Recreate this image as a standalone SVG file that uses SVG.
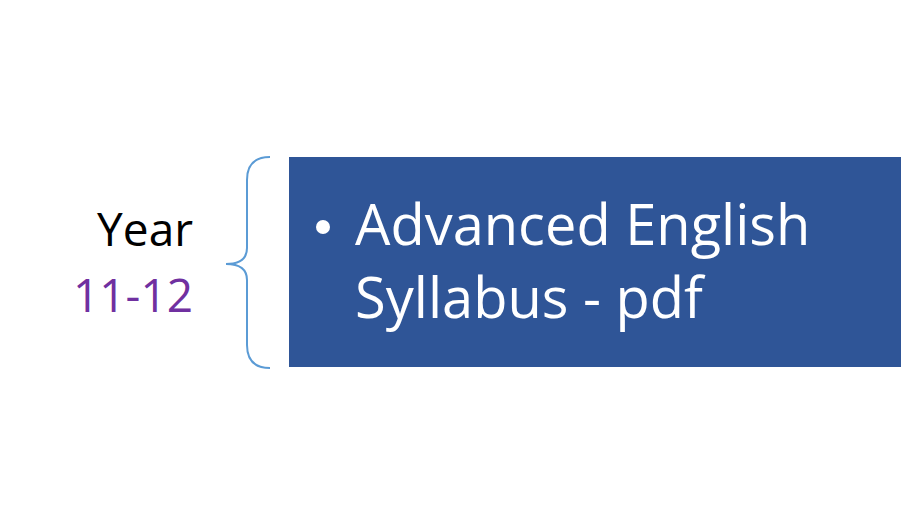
<svg xmlns="http://www.w3.org/2000/svg" width="901" height="525" viewBox="0 0 901 525">
<style>
text{font-family:"Open Sans","Liberation Sans",sans-serif}
.w{fill:#fff;font-size:56px}
</style>
<rect width="901" height="525" fill="#fff"/>
<g id="label">
<text x="193" y="246" font-size="46" fill="#000" text-anchor="end">Year</text>
<text x="193" y="312" font-size="46" fill="#7030a0" text-anchor="end">11-12</text>
</g>
<g id="connectors">
<path d="M270 157 Q247 157 247 180 L247 248 Q247 264 226 264 Q247 264 247 280 L247 345 Q247 368 270 368" fill="none" stroke="#5b9bd5" stroke-width="2"/>
</g>
<g id="box">
<rect x="289" y="157" width="612" height="210" fill="#2f5597"/>
<circle cx="323" cy="227" r="7" fill="#fff"/>
<text class="w" x="355" y="245">Advanced English</text>
<text class="w" x="355" y="318">Syllabus - pdf</text>
</g>
</svg>
